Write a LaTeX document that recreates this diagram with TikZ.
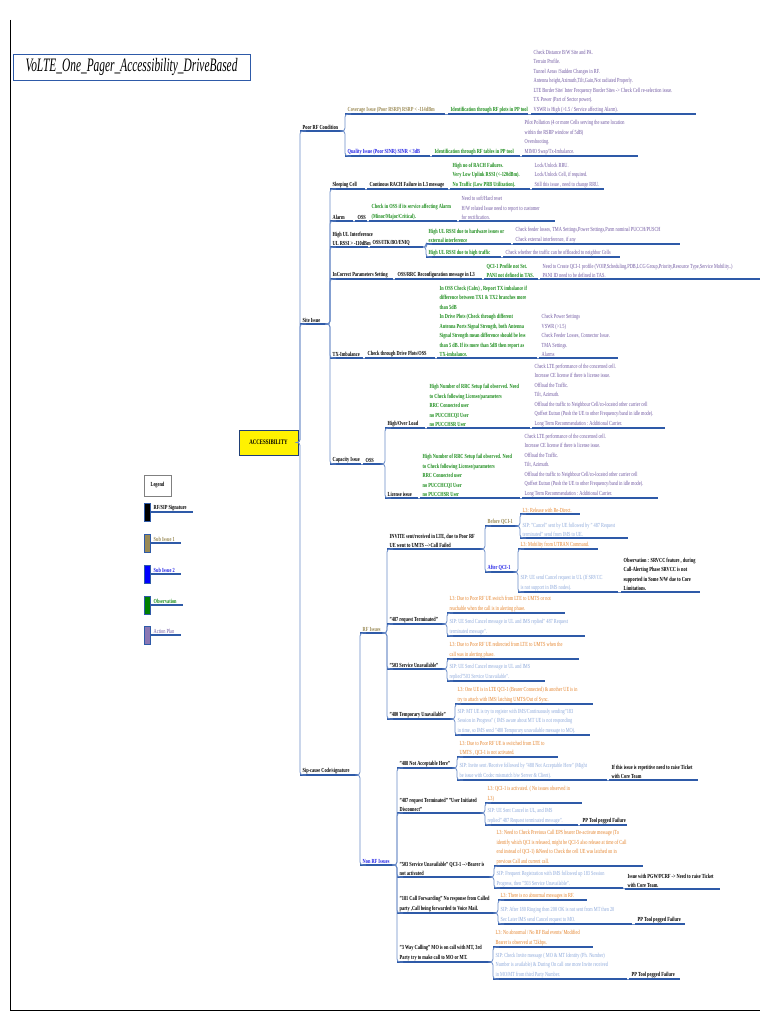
\documentclass[tikz,border=0pt]{standalone}
\usepackage{fontspec}
\setmainfont{Liberation Serif}[FakeStretch=0.7]
\newfontfamily\titlefont{Liberation Serif}[FakeStretch=0.6]
\usetikzlibrary{calc}
\definecolor{mmkhaki}{HTML}{9A8A55}
\definecolor{mmgreen}{HTML}{1A8C1A}
\definecolor{mmpurple}{HTML}{6E55A0}
\definecolor{mmlblue}{HTML}{8DA9DB}
\definecolor{mmorange}{HTML}{E5832B}
\definecolor{mmblue}{HTML}{1F1FE6}
\definecolor{mmul}{HTML}{2E5AA8}
\definecolor{mmcn}{HTML}{6A8CC8}
\newcommand\mmfont{\fontsize{6.2}{9.5}\selectfont}
\tikzset{
  mmnode/.style={inner xsep=2.5pt, inner ysep=1pt, align=left},
  tb/.style={font=\mmfont\bfseries, text=black},
  tk/.style={font=\mmfont\bfseries, text=mmkhaki},
  tbl/.style={font=\mmfont\bfseries, text=mmblue},
  tg/.style={font=\mmfont\bfseries, text=mmgreen},
  tp/.style={font=\mmfont, text=mmpurple},
  to/.style={font=\mmfont, text=mmorange},
  tl/.style={font=\mmfont, text=mmlblue},
  ul/.style={draw=mmul, line width=1.3pt},
  conn/.style={draw=mmcn, line width=0.8pt, rounded corners=3pt},
  lrect/.style={draw=mmul, line width=0.6pt, minimum width=6pt, minimum height=18pt, inner sep=0pt},
}
% name, style, x, y(underline), width, text
\newcommand\mmn[6]{%
  \node[mmnode,#2,anchor=south west] (#1) at (#3,#4) {#6};
  \coordinate (#1-w) at (#3,#4);
  \coordinate (#1-e) at ($(#3,#4)+(#5,0)$);
  \draw[ul] (#1-w) -- (#1-e);
}
\newcommand\mmc[2]{\draw[conn] (#1-e) -- (#2-w |- #1-e) -- (#2-w) -- ($(#2-w)+(6,0)$);}
\newcommand\mmch[2]{\draw[conn] (#1-e) -- (#2-w);}
\begin{document}
\begin{tikzpicture}[x=1pt,y=-1pt]
\useasboundingbox (0,0) rectangle (768,1024);
\fill[white] (0,0) rectangle (768,1024);
% frame
\draw[black, line width=0.8pt] (10,20) -- (10,1010) -- (760,1010);
% title
\node[draw=mmul, line width=0.8pt, minimum width=237pt, minimum height=26pt, inner sep=0pt,
  font=\titlefont\itshape\fontsize{19}{20}\selectfont] (title) at (131.5,67) {VoLTE\_One\_Pager\_Accessibility\_DriveBased};
% legend
\node[draw=gray, line width=0.6pt, minimum width=27pt, minimum height=21pt, inner sep=0pt, font=\mmfont\bfseries] (leg) at (157.5,485.5) {Legend};
\node[lrect, fill=black] (lr1) at (147.5,512) {};
\node[lrect, fill=mmkhaki] (lr2) at (147.5,543) {};
\node[lrect, fill=blue] (lr3) at (147.5,574) {};
\node[lrect, fill=green!50!black] (lr4) at (147.5,605) {};
\node[lrect, fill=mmpurple!80] (lr5) at (147.5,635) {};
\mmn{lt1}{tb}{151}{512}{42}{RF/SIP Signature}
\mmn{lt2}{tk}{151}{543}{30}{Sub Issue 1}
\mmn{lt3}{tbl}{151}{574}{30}{Sub Issue 2}
\mmn{lt4}{tg}{151}{605}{32}{Observation}
\mmn{lt5}{tp}{151}{635}{30}{Action Plan}
% root
\node[fill=yellow, draw=mmul!70!black, line width=0.8pt, minimum width=59pt, minimum height=25pt, inner sep=0pt,
  font=\fontsize{7}{8}\selectfont\bfseries] (acc) at (268.5,442.5) {ACCESSIBILITY};
% level 1
\mmn{poor}{tb}{300}{131}{43}{Poor RF Condition}
\mmn{site}{tb}{300}{324}{28}{Site Issue}
\mmn{sip}{tb}{300}{775}{58}{Sip-cause Code/signature}
\foreach \c in {poor,site,sip}{\draw[conn] (acc.east) -- (\c-w |- acc.east) -- (\c-w) -- ($(\c-w)+(6,0)$);}
% Poor RF
\mmn{cov}{tk}{345}{114}{100}{Coverage Issue (Poor RSRP)  RSRP < -114dBm}
\mmn{covid}{tg}{448}{114}{80}{Identification through RF plots  in PP tool}
\mmn{covap}{tp}{531}{114}{165}{Check Distance B/W Site and PA.\\Terrain Profile.\\Tunnel Areas /Sudden Changes in RF.\\Antenna height,Azimuth,Tilt,Gain,Not radiated Properly.\\LTE Border Site/ Inter Frequency Border Sites -> Check Cell re-selection issue.\\TX Power (Part of Sector power).\\VSWR is High (>1.5 / Service affecting Alarm).}
\mmn{qual}{tbl}{345}{156}{85}{Quality Issue (Poor SINR) SINR < 3dB}
\mmn{qualid}{tg}{432}{156}{88}{Identification through RF tables in PP tool}
\mmn{qualap}{tp}{522}{156}{116}{Pilot Pollution (4 or more Cells serving the same location\\within the RSRP window of 5dB)\\Overshooting.\\MIMO Swap/Tx-Imbalance.}
\mmc{poor}{cov}\mmc{poor}{qual}
\mmch{cov}{covid}\mmch{covid}{covap}\mmch{qual}{qualid}\mmch{qualid}{qualap}
% Site issues
\mmn{sleep}{tb}{330}{189}{35}{Sleeping Cell}
\mmn{rach}{tb}{367}{189}{81}{Continous RACH Failure in L3 message}
\mmn{rachob}{tg}{450}{189}{80}{High no of RACH Failures.\\Very Low Uplink RSSI (<-120dBm).\\No Traffic (Low PRB Utilization).}
\mmn{rachap}{tp}{532}{189}{72}{Lock/Unlock RRU.\\Lock/Unlock Cell, if required.\\Still this issue , need to change RRU.}
\mmn{alarm}{tb}{330}{221}{23}{Alarm}
\mmn{aoss}{tb}{355}{221}{12}{OSS}
\mmn{alarmob}{tg}{369}{221}{88}{Check in OSS if its service affecting Alarm\\(Minor/Major/Critical).}
\mmn{alarmap}{tp}{459}{221}{96}{Need to soft/Hard reset\\H/W related Issue need to report to customer\\for rectification.}
\mmn{ulint}{tb}{330}{247}{38}{High UL Interference\\UL RSSI > -110dBm}
\mmn{uloss}{tb}{370}{247}{53}{OSS/ITK/BO/ENIQ}
\mmn{ulhw}{tg}{426}{244}{85}{High UL RSSI due to hardware issues or\\external interference}
\mmn{ulhwap}{tp}{513}{244}{167}{Check feeder losses, TMA Settings,Power Settings,Parm nominal PUCCH/PUSCH\\Check external interference, if any}
\mmn{ultr}{tg}{426}{257}{75}{High UL RSSI due to high traffic}
\mmn{ultrap}{tp}{503}{257}{117}{Check whether the traffic can be offloaded  to neighbor Cells}
\mmn{incor}{tb}{330}{279}{63}{InCorrect Parameters Setting}
\mmn{rrc}{tb}{395}{279}{87}{OSS/RRC Reconfiguration message in L3}
\mmn{incorob}{tg}{484}{279}{54}{QCI-1 Profile not Set.\\PANI not defined in TAS.}
\mmn{incorap}{tp}{540}{279}{220}{Need to Create QCI-1 profile (VOIP,Scheduling,PDB,LCG Group,Priority,Resource Type,Service Mobility..)\\PANI ID need to be defined in TAS.}
\mmn{txi}{tb}{330}{358}{33}{TX-Imbalance}
\mmn{txchk}{tb}{365}{358}{70}{Check through Drive Plots/OSS}
\mmn{txob}{tg}{437}{358}{100}{In OSS Check (Cabx) , Report TX imbalance if\\difference between TX1 \& TX2 branches more\\than 5dB\\In Drive Plots (Check through different\\Antenna Ports  Signal Strength, both Antenna\\Signal Strength mean difference should be less\\than 5 dB.  If its more than 5dB then report as\\TX-imbalance.}
\mmn{txap}{tp}{539}{358}{79}{Check Power Settings\\VSWR (>1.5)\\Check Feeder Losses, Connector Issue.\\TMA Settings.\\Alarms}
\mmn{cap}{tb}{330}{464}{31}{Capacity  Issue}
\mmn{caposs}{tb}{363}{464}{20}{OSS}
\mmn{hol}{tb}{385}{428}{40}{High/Over Load}
\mmn{holob}{tg}{427}{428}{103}{High Number of RRC Setup fail observed. Need\\to Check following  License/parameters\\RRC Connected user\\no PUCCHCQI User\\no PUCCHSR User}
\mmn{holap}{tp}{532}{428}{133}{Check LTE performance of the concerned cell.\\Increase CE license  if there is license issue.\\Offload the Traffic.\\Tilt, Azimuth.\\Offload the traffic to Neighbour Cell/co-located  other carrier cell\\Qoffset Eutran (Push the UE to other Frequency/band in idle mode).\\Long Term Recommendation : Additional Carrier.}
\mmn{lic}{tb}{385}{498}{33}{License issue}
\mmn{licob}{tg}{420}{498}{100}{High Number of RRC Setup fail observed. Need\\to Check following  License/parameters\\RRC Connected user\\no PUCCHCQI User\\no PUCCHSR User}
\mmn{licap}{tp}{522}{498}{136}{Check LTE performance of the concerned cell.\\Increase CE license  if there is license issue.\\Offload the Traffic.\\Tilt, Azimuth.\\Offload the traffic to Neighbour Cell/co-located  other carrier cell\\Qoffset Eutran (Push the UE to other Frequency/band in idle mode).\\Long Term Recommendation : Additional Carrier.}
\foreach \c in {sleep,alarm,ulint,incor,txi,cap}{\mmc{site}{\c}}
\mmch{sleep}{rach}\mmch{rach}{rachob}\mmch{rachob}{rachap}
\mmch{alarm}{aoss}\mmch{aoss}{alarmob}\mmch{alarmob}{alarmap}
\mmch{ulint}{uloss}\mmc{uloss}{ulhw}\mmc{uloss}{ultr}\mmch{ulhw}{ulhwap}\mmch{ultr}{ultrap}
\mmch{incor}{rrc}\mmch{rrc}{incorob}\mmch{incorob}{incorap}
\mmch{txi}{txchk}\mmch{txchk}{txob}\mmch{txob}{txap}
\mmch{cap}{caposs}\mmc{caposs}{hol}\mmc{caposs}{lic}
\mmch{hol}{holob}\mmch{holob}{holap}\mmch{lic}{licob}\mmch{licob}{licap}
% SIP cause code
\mmn{rfiss}{tk}{360}{633}{25}{RF Issues}
\mmn{nonrf}{tbl}{360}{865}{35}{Non RF Issues}
\mmc{sip}{rfiss}\mmc{sip}{nonrf}
\mmn{invite}{tb}{387}{549}{96}{INVITE sent/received in LTE, due to Poor RF\\UE went to UMTS -{}->Call Failed}
\mmn{bq}{tk}{485}{526}{33}{Before QCI-1}
\mmn{bql3}{to}{520}{514}{60}{L3: Release with Re-Direct.}
\mmn{bqsip}{tl}{520}{538}{108}{SIP: "Cancel" sent by UE followed by " 487 Request\\terminated" send from IMS to UE.}
\mmn{aq}{tbl}{485}{572}{31}{After QCI-1}
\mmn{aql3}{to}{518}{549}{80}{L3: Mobility from UTRAN Command.}
\mmn{aqsip}{tl}{518}{592}{100}{SIP: UE send Cancel request in UL (If SRVCC\\is not support in IMS nodes).}
\mmn{aqobs}{tb}{621}{592}{79}{Observation : SRVCC feature , during\\Call-Alerting Phase SRVCC is not\\supported in Some N/W due to Core\\Limitations.}
\mmc{rfiss}{invite}\mmc{invite}{bq}\mmc{invite}{aq}
\mmc{bq}{bql3}\mmc{bq}{bqsip}\mmc{aq}{aql3}\mmc{aq}{aqsip}\mmch{aqsip}{aqobs}
\mmn{r487}{tb}{387}{624}{58}{"487 request Terminated"}
\mmn{r487l3}{to}{447}{613}{118}{L3: Due to Poor RF UE switch from LTE to UMTS  or not\\reachable  when the call  is in alerting phase.}
\mmn{r487sip}{tl}{447}{636}{138}{SIP: UE Send Cancel  message in UL and IMS replied" 487 Request\\terminated message".}
\mmn{r503}{tb}{387}{669}{58}{"503 Service Unavailable"}
\mmn{r503l3}{to}{447}{659}{132}{L3: Due to Poor RF UE redirected from LTE to UMTS  when the\\call was in alerting phase.}
\mmn{r503sip}{tl}{447}{681}{98}{SIP: UE Send Cancel  message in UL and IMS\\replied"503 Service Unavailable".}
\mmn{r480}{tb}{387}{719}{66}{"480 Temporary Unavailable"}
\mmn{r480l3}{to}{455}{704}{138}{L3: One UE is in LTE QCI-1 (Bearer Connected) \& another UE is in\\try to attach with IMS/ latching UMTS/Out of Sync.}
\mmn{r480sip}{tl}{455}{735}{135}{SIP: MT UE is try to register with IMS/Continuously sending"183\\Session in Progress" ( IMS aware about MT UE is not responding\\in time, so IMS send "480 Temporary unavailable message to MO).}
\foreach \c in {r487,r503,r480}{\mmc{rfiss}{\c}\mmc{\c}{\c l3}\mmc{\c}{\c sip}}
% Non RF
\mmn{n488}{tb}{397}{768}{58}{"488 Not Acceptable Here"}
\mmn{n488l3}{to}{457}{757}{101}{L3: Due to Poor RF UE is switched from LTE to\\UMTS , QCI-1 is not activated.}
\mmn{n488sip}{tl}{457}{780}{150}{SIP: Invite sent /Receive followed by "488 Not Acceptable Here" (Might\\be issue with Codec mismatch b/w Server \& Client).}
\mmn{n488obs}{tb}{609}{780}{89}{If this issue is repetitive need to raise Ticket\\with Core Team}
\mmn{n487}{tb}{397}{813}{86}{"487 request Terminated" "User Initiated\\Disconnect"}
\mmn{n487l3}{to}{485}{803}{97}{L3: QCI-1 is activated. ( No issues observed in\\L3)}
\mmn{n487sip}{tl}{485}{825}{93}{SIP: UE Sent Cancel in UL, and IMS\\replied" 487 Request terminated message".}
\mmn{n487obs}{tb}{580}{825}{47}{PP Tool pegged Failure}
\mmn{n503}{tb}{397}{877}{95}{"503 Service Unavailable" QCI-1 -{}->Bearer is\\not activated}
\mmn{n503l3}{to}{494}{866}{149}{L3:  Need to Check Previous Call  EPS bearer De-activate message (To\\identify which QCI is released, might be QCI-5 also release at time of Call\\end instead of QCI-1) \&Need to Check the cell UE was latched on  in\\previous Call and current call.}
\mmn{n503sip}{tl}{494}{888}{129}{SIP: Frequent Registration with IMS followed  up  183 Session\\Progress, then "503 Service Unavailable".}
\mmn{n503obs}{tb}{625}{889}{95}{Issue with PGW/PCRF -> Need to raise Ticket\\with Core Team.}
\mmn{n181}{tb}{397}{913}{99}{"181 Call Forwarding" No response from Called\\party ,Call being forwarded to Voice Mail.}
\mmn{n181l3}{to}{498}{900}{89}{L3: There is no abnormal  messages in RF.}
\mmn{n181sip}{tl}{498}{924}{134}{SIP: After 180 Ringing then 200 OK is  not sent  from MT then 20\\Sec Later IMS send Cancel request to MO.}
\mmn{n181obs}{tb}{635}{924}{50}{PP Tool pegged Failure}
\mmn{n3}{tb}{397}{962}{94}{"3 Way Calling" MO is  on call with MT, 3rd\\Party try to make call to MO or MT.}
\mmn{n3l3}{to}{493}{947}{100}{L3: No abnormal / No  RF Bad events/ Modified\\Bearer is observed at 72kbps.}
\mmn{n3sip}{tl}{493}{979}{134}{SIP: Check Invite message ( MO \& MT Identity (Ph.  Number)\\Number is available)  \&  During On call one more Invite received\\in MO/MT from third Party Number.}
\mmn{n3obs}{tb}{629}{979}{51}{PP Tool pegged Failure}
\foreach \c in {n488,n487,n503,n181,n3}{\mmc{nonrf}{\c}\mmc{\c}{\c l3}\mmc{\c}{\c sip}\mmch{\c sip}{\c obs}}
\end{tikzpicture}
\end{document}
